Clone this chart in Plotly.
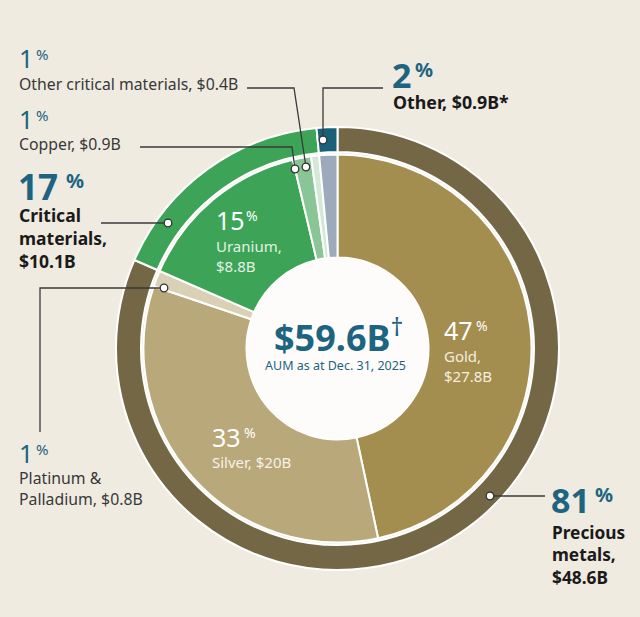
import plotly.graph_objects as go

W, H = 640, 617

# ---------------- data ----------------
inner_names = ["Gold", "Silver", "Platinum & Palladium", "Uranium", "Copper",
               "Other critical materials", "Other"]
inner_values = [27.8, 20.0, 0.8, 8.8, 0.9, 0.4, 0.9]
inner_pct = [47, 33, 1, 15, 1, 1, 2]
inner_colors = ["#A38D4F", "#B9A87A", "#D9D0B6", "#3DA457", "#8AC595", "#D3E9D6", "#9CAABB"]

outer_names = ["Precious metals", "Critical materials", "Other"]
outer_values = [48.6, 10.1, 0.9]
outer_pct = [81, 17, 2]
outer_colors = ["#746746", "#3DA457", "#1A6079"]

total_aum = "$59.6B"
aum_note = "AUM as at Dec. 31, 2025"

# ---------------- geometry (pixels) ----------------
CX, CY = 337.5, 348.5
R_OUT, R_RING_IN, R_PIE, R_HOLE = 221.5, 196.5, 194.0, 91.0

BG = "#EFEBE1"
TEAL = "#1D6480"
DARK = "#1A1A1A"
GREY = "#383838"
FONT = "Noto Sans"


def px(x, y):
    return x / W, 1 - y / H


def dom(r):
    return dict(x=[(CX - r) / W, (CX + r) / W], y=[1 - (CY + r) / H, 1 - (CY - r) / H])


fig = go.Figure()
fig.add_trace(go.Pie(
    labels=outer_names, values=outer_values, sort=False, direction="clockwise",
    rotation=0, hole=R_RING_IN / R_OUT, domain=dom(R_OUT), textinfo="none",
    hoverinfo="label+value", marker=dict(colors=outer_colors, line=dict(color="white", width=2)),
))
fig.add_trace(go.Pie(
    labels=inner_names, values=inner_values, sort=False, direction="clockwise",
    rotation=0, hole=R_HOLE / R_PIE, domain=dom(R_PIE), textinfo="none",
    hoverinfo="label+value", marker=dict(colors=inner_colors, line=dict(color="white", width=2)),
))

shapes = []
# centre white disc
x0, y1 = px(CX - R_HOLE, CY - R_HOLE)
x1, y0 = px(CX + R_HOLE, CY + R_HOLE)
shapes.append(dict(type="circle", xref="paper", yref="paper", x0=x0, y0=y0, x1=x1, y1=y1,
                   fillcolor="#FDFCFA", line=dict(width=0), layer="above"))

# leader lines: list of pixel points, last point is the dot
leaders = [
    [(247, 88), (294, 88), (306, 167)],      # other critical
    [(140, 147), (292, 147), (295, 169)],    # copper
    [(383, 88), (323, 88), (323, 140)],      # other
    [(101, 223), (168, 223)],                # critical materials
    [(40, 432), (40, 288), (164, 288)],      # platinum & palladium
    [(545, 496), (490, 496)],                # precious metals
]
for pts in leaders:
    path = ""
    for i, (x, y) in enumerate(pts):
        X, Y = px(x, y)
        path += ("M" if i == 0 else " L") + f" {X:.5f} {Y:.5f}"
    shapes.append(dict(type="path", xref="paper", yref="paper", path=path,
                       line=dict(color="#3A3A3A", width=1.3)))
    dx, dy = pts[-1]
    r = 3.8
    a0, b1 = px(dx - r, dy - r)
    a1, b0 = px(dx + r, dy + r)
    shapes.append(dict(type="circle", xref="paper", yref="paper", x0=a0, y0=b0, x1=a1, y1=b1,
                       fillcolor="white", line=dict(color="#333333", width=1.3)))

annotations = []


def ann(x, y, text, size, color, bold=False, xanchor="left", align="left"):
    X, Y = px(x, y)
    t = f"<b>{text}</b>" if bold else text
    annotations.append(dict(x=X, y=Y, xref="paper", yref="paper", text=t, showarrow=False,
                            xanchor=xanchor, yanchor="middle", align=align,
                            font=dict(family=FONT, size=size, color=color)))


def pct_label(x, y, num, size, psize, pct_dx, color, bold=False):
    ann(x, y, str(num), size, color, bold)
    ann(x + pct_dx, y - size * 0.17, "%", psize, color, bold)


# Other critical materials (index 5)
pct_label(17, 58, inner_pct[5], 25, 15, 17, TEAL)
ann(17, 84, f"{inner_names[5]}, ${inner_values[5]}B", 15.8, GREY)
# Copper (index 4)
pct_label(17, 119, inner_pct[4], 25, 15, 17, TEAL)
ann(17, 144, f"{inner_names[4]}, ${inner_values[4]}B", 15.8, GREY)
# Critical materials (outer 1)
pct_label(16, 186, outer_pct[1], 35, 20, 48, TEAL, bold=True)
ann(17, 238, f"Critical<br>materials,<br>${outer_values[1]}B", 17.5, DARK, bold=True)
# Uranium
pct_label(214, 220, inner_pct[3], 25, 14, 30, "white")
ann(214, 256, f"{inner_names[3]},<br>${inner_values[3]}B", 15, "#E3F1E4")
# Gold
pct_label(442, 330, inner_pct[0], 25, 14, 32, "white")
ann(442, 366, f"{inner_names[0]},<br>${inner_values[0]}B", 15, "#F4EEDF")
# Silver
pct_label(210, 437, inner_pct[1], 25, 14, 32, "white")
ann(210, 462, f"{inner_names[1]}, ${inner_values[1]:.0f}B", 15, "#F7F2E6")
# Other (outer 2)
pct_label(390, 75, outer_pct[2], 34, 20, 23, TEAL, bold=True)
ann(391, 102, f"{outer_names[2]}, ${outer_values[2]}B*", 17.8, DARK, bold=True)
# Precious metals (outer 0)
pct_label(549, 500, outer_pct[0], 34, 20, 44, TEAL, bold=True)
ann(550, 555, f"Precious<br>metals,<br>${outer_values[0]}B", 17.3, DARK, bold=True)
# Platinum & Palladium (index 2)
pct_label(17, 453, inner_pct[2], 25, 15, 17, TEAL)
ann(17, 488, f"Platinum &<br>Palladium, ${inner_values[2]}B", 15.8, GREY)

# centre
ann(338, 336, f"<b>{total_aum}</b><sup>†</sup>", 36, TEAL, xanchor="center", align="center")
ann(335, 365, aum_note, 12.5, TEAL, xanchor="center", align="center")

fig.update_layout(
    width=W, height=H, margin=dict(l=0, r=0, t=0, b=0),
    paper_bgcolor=BG, plot_bgcolor=BG, showlegend=False,
    shapes=shapes, annotations=annotations,
)

fig.write_html("out.html")
